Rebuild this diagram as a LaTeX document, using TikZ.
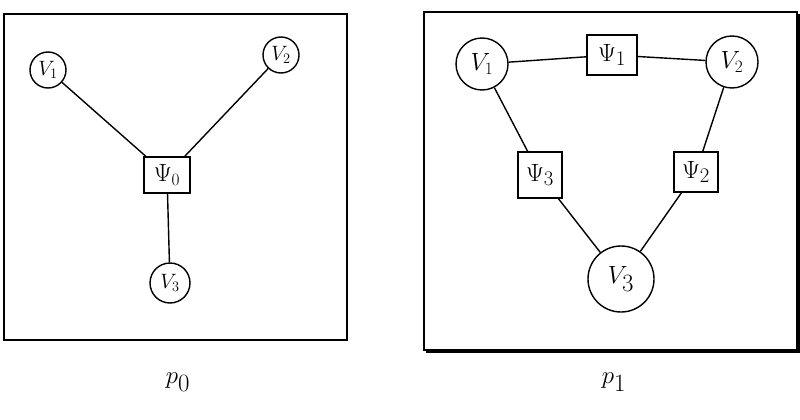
\documentclass[tikz,border=0pt]{standalone}
\begin{document}
\begin{tikzpicture}[x=1pt,y=-1pt,line width=1.4pt,
  vc/.style={draw,circle,inner sep=0pt},
  fb/.style={draw,rectangle,inner sep=0pt},
  fs/.style={font=\fontsize{#1}{#1}\selectfont}]
\useasboundingbox (0,0) rectangle (800,420);
\draw (4,14) rectangle (347,340);
\draw (424,12) rectangle (797,350);
\draw (426,352) -- (799,352) -- (799,14);
% left
\node[vc,minimum size=36pt,fs=20] (a1) at (48,70) {$V_1$};
\node[vc,minimum size=36pt,fs=20] (a2) at (281,55) {$V_2$};
\node[fb,minimum width=46pt,minimum height=36pt,fs=24] (f0) at (167,175) {$\Psi_0$};
\node[vc,minimum size=40pt,fs=20] (a3) at (170,283) {$V_3$};
\draw (a1) -- (f0); \draw (a2) -- (f0); \draw (f0) -- (a3);
\node[fs=40] (l0) at (178,382) {$p_0$};
% right
\node[vc,minimum size=52pt,fs=24] (b1) at (482,64) {$V_1$};
\node[fb,minimum width=50pt,minimum height=40pt,fs=28] (f1) at (612,55) {$\Psi_1$};
\node[vc,minimum size=52pt,fs=24] (b2) at (732,62) {$V_2$};
\node[fb,minimum width=44pt,minimum height=46pt,fs=28] (f3) at (540,175) {$\Psi_3$};
\node[fb,minimum width=44pt,minimum height=40pt,fs=28] (f2) at (696,172) {$\Psi_2$};
\node[vc,minimum size=66pt,fs=34] (b3) at (621,279) {$V_3$};
\draw (b1) -- (f1); \draw (f1) -- (b2);
\draw (b1) -- (f3); \draw (f3) -- (b3);
\draw (b2) -- (f2); \draw (f2) -- (b3);
\node[fs=40] (l1) at (614,382) {$p_1$};
\end{tikzpicture}
\end{document}
